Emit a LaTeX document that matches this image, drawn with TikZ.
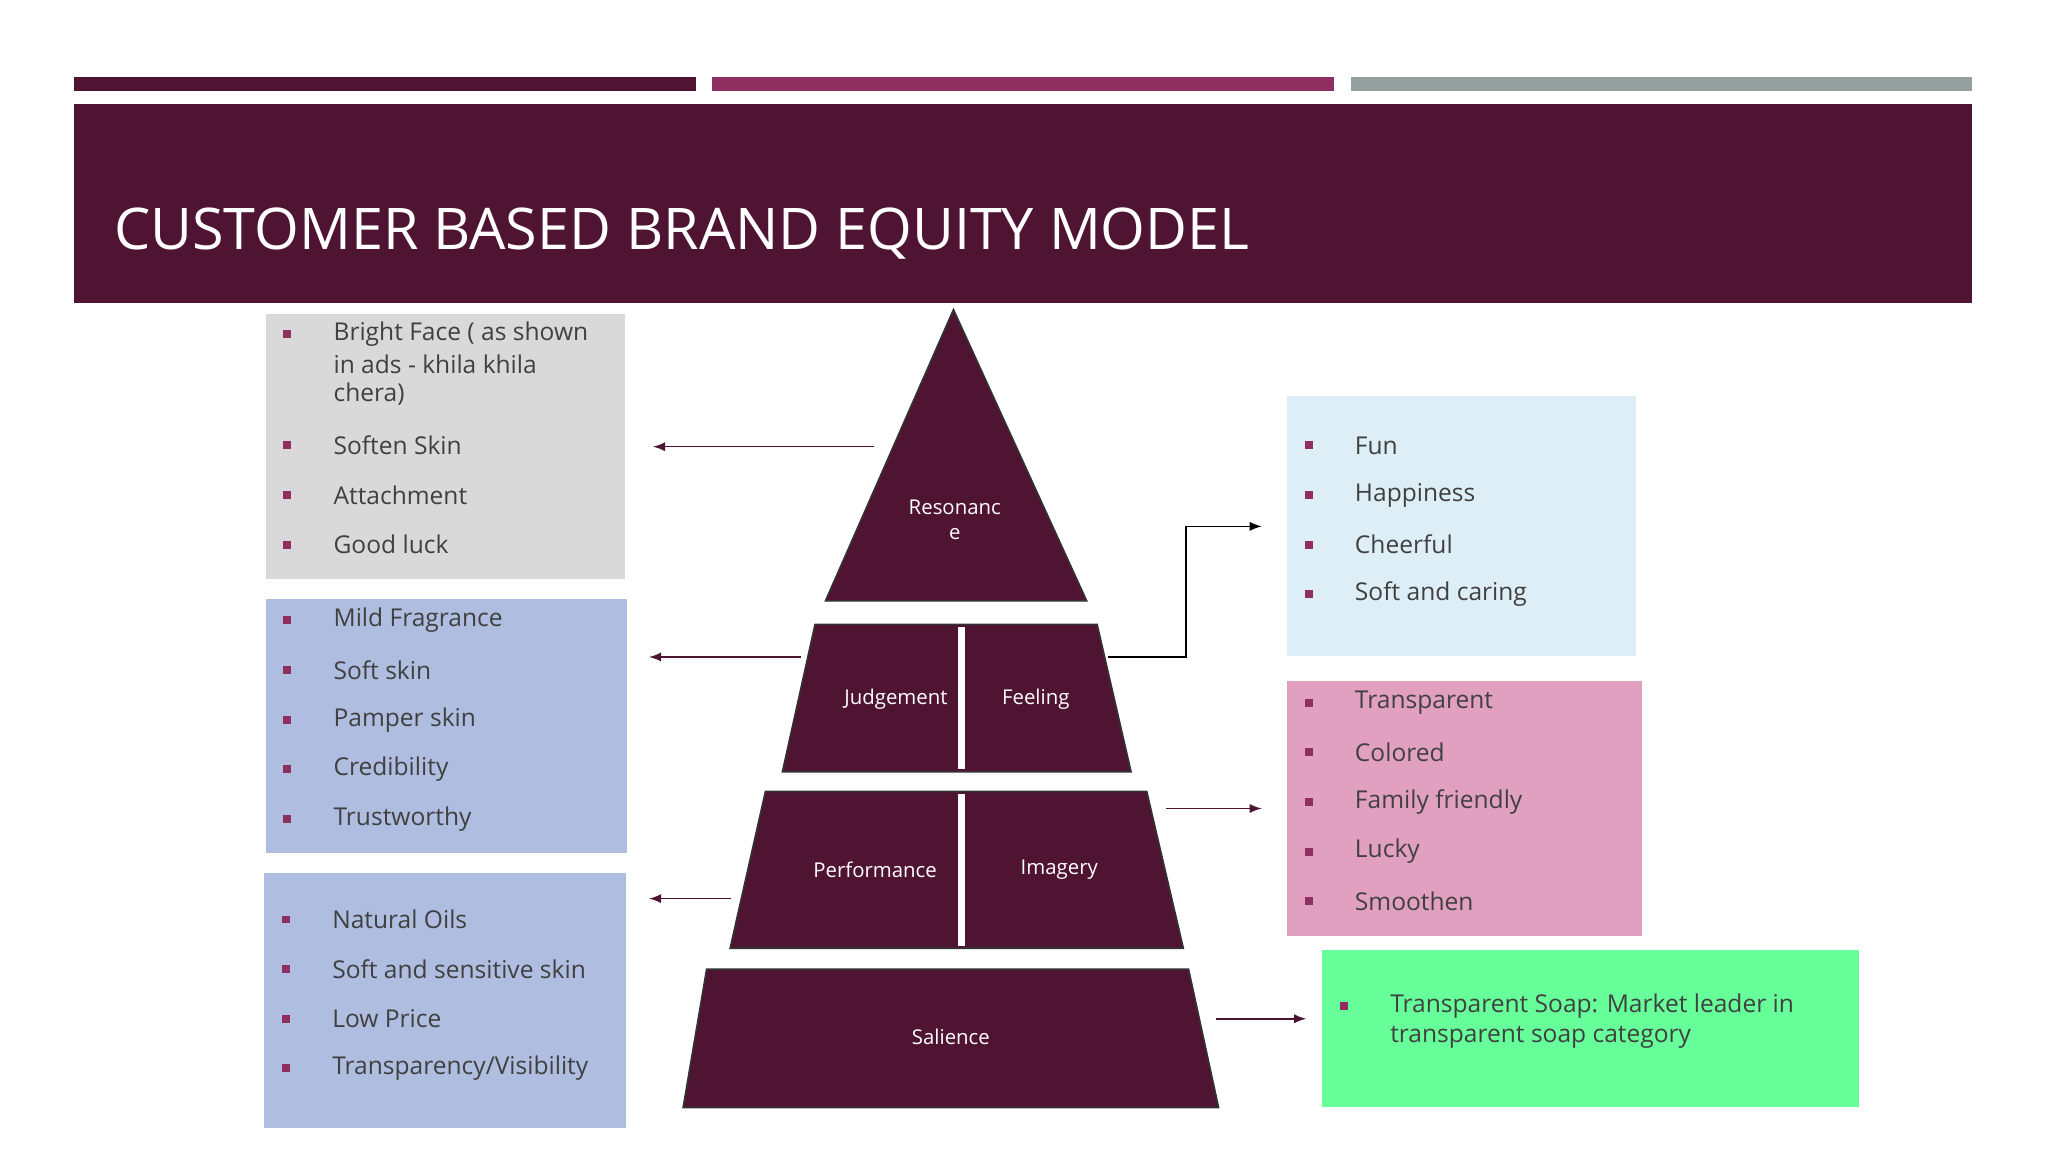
\documentclass[tikz,border=0pt]{standalone}
\usepackage{fontspec}
\setmainfont{Open Sans}
\definecolor{plum}{HTML}{501433}
\definecolor{mag}{HTML}{8E2F60}
\definecolor{greybar}{HTML}{95A0A0}
\definecolor{lgrey}{HTML}{D9D9D9}
\definecolor{lblue}{HTML}{AEBDE0}
\definecolor{sky}{HTML}{DDEEF6}
\definecolor{pink}{HTML}{E2A0C0}
\definecolor{mint}{HTML}{66FF99}
\begin{document}
\begin{tikzpicture}[x=0.5pt,y=-0.5pt,
  item/.style={anchor=west,font=\fontsize{9.4}{11.5}\selectfont,text=black!75,inner sep=0,align=left},
  pyr/.style={fill=plum,draw=black!80,line width=0.6pt},
  box/.style={inner sep=0,anchor=north west},
  lab/.style={text=white,font=\fontsize{7.8}{9.5}\selectfont,align=center},
  arr/.style={draw=plum,line width=0.6pt,-latex}]
\useasboundingbox (0,0) rectangle (1568,882);
\fill[white] (0,0) rectangle (1568,882);
\fill[plum] (57,59) rectangle (533,70);
\fill[mag] (545,59) rectangle (1021,70);
\fill[greybar] (1034,59) rectangle (1510,70);
\fill[plum] (57,80) rectangle (1510,232);
\node[anchor=base west,text=white,font=\fontsize{22}{26}\selectfont,inner sep=0] (title) at (87,191) {CUSTOMER BASED BRAND EQUITY MODEL};
\node[box,fill=lgrey,minimum width={275*0.5pt},minimum height={203*0.5pt}] (b1) at (203,240) {};
\node[box,fill=lblue,minimum width={277*0.5pt},minimum height={195*0.5pt}] (b2) at (203,458) {};
\node[box,fill=lblue,minimum width={277*0.5pt},minimum height={195*0.5pt}] (b3) at (202,668) {};
\node[box,fill=sky,minimum width={267*0.5pt},minimum height={199*0.5pt}] (b4) at (985,303) {};
\node[box,fill=pink,minimum width={272*0.5pt},minimum height={195*0.5pt}] (b5) at (985,521) {};
\node[box,fill=mint,minimum width={411*0.5pt},minimum height={120*0.5pt}] (b6) at (1012,727) {};
\newcommand\bul[3]{\fill[mag] (#1-3,#2-3) rectangle (#1+3,#2+3); \node[item] at (#1+35,#2) {#3};}
\bul{220}{256}{Bright Face ( as shown}
\node[item] at (255,279) {in ads - khila khila};
\node[item] at (255,302) {chera)};
\bul{220}{341}{Soften Skin}
\bul{220}{379}{Attachment}
\bul{220}{417}{Good luck}
\bul{220}{475}{Mild Fragrance}
\bul{220}{513}{Soft skin}
\bul{220}{551}{Pamper skin}
\bul{220}{589}{Credibility}
\bul{220}{627}{Trustworthy}
\bul{219}{704}{Natural Oils}
\bul{219}{742}{Soft and sensitive skin}
\bul{219}{780}{Low Price}
\bul{219}{818}{Transparency/Visibility}
\bul{1002}{341}{Fun}
\bul{1002}{379}{Happiness}
\bul{1002}{417}{Cheerful}
\bul{1002}{455}{Soft and caring}
\bul{1002}{538}{Transparent}
\bul{1002}{576}{Colored}
\bul{1002}{614}{Family friendly}
\bul{1002}{652}{Lucky}
\bul{1002}{690}{Smoothen}
\bul{1029}{770}{Transparent Soap: Market leader in}
\node[item] at (1064,794) {transparent soap category};
% pyramid
\draw[pyr] (730,237) -- (832,460) -- (632,460) -- cycle;
\node[lab] (res) at (731,398) {Resonanc\\e};
\draw[pyr] (624,478) -- (840,478) -- (866,591) -- (599,591) -- cycle;
\draw[white,line width=2.5pt] (736,480) -- (736,589);
\node[lab] (jud) at (686,535) {Judgement};
\node[lab] (fee) at (793,535) {Feeling};
\draw[pyr] (586,606) -- (878,606) -- (906,726) -- (559,726) -- cycle;
\draw[white,line width=2.5pt] (736,608) -- (736,724);
\node[lab] (perf) at (670,666) {Performance};
\node[lab] (ima) at (811,666) {Imagery};
\draw[pyr] (541,742) -- (910,742) -- (933,848) -- (523,848) -- cycle;
\node[lab] (sal) at (728,794) {Salience};
% arrows
\coordinate (a1s) at (669,342); \coordinate (a1e) at (500,342);
\coordinate (a2s) at (613,503); \coordinate (a2e) at (497,503);
\coordinate (a3s) at (560,688); \coordinate (a3e) at (497,688);
\coordinate (a4s) at (848,503); \coordinate (a4m) at (908,503); \coordinate (a4n) at (908,403); \coordinate (a4e) at (966,403);
\coordinate (a5s) at (893,619); \coordinate (a5e) at (966,619);
\coordinate (a6s) at (931,780); \coordinate (a6e) at (1000,780);
\draw[arr] (a1s) -- (a1e);
\draw[arr] (a2s) -- (a2e);
\draw[arr] (a3s) -- (a3e);
\draw[arr,draw=black] (a4s) -- (a4m) -- (a4n) -- (a4e);
\draw[arr] (a5s) -- (a5e);
\draw[arr] (a6s) -- (a6e);
\end{tikzpicture}
\end{document}
